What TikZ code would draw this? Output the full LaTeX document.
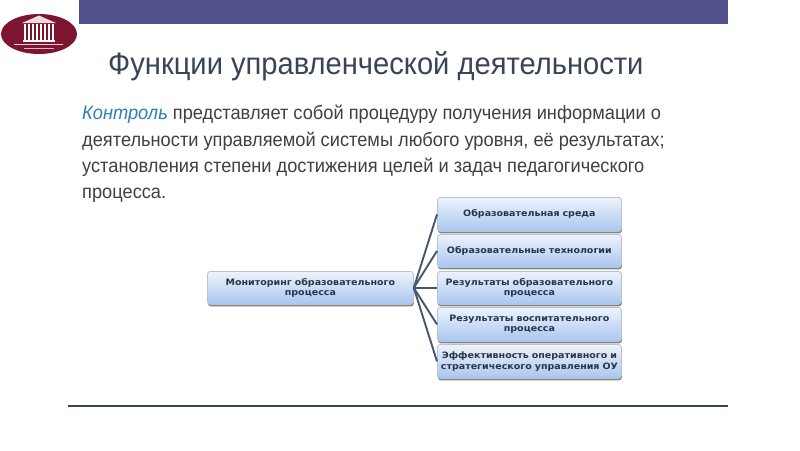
\documentclass[tikz,border=0pt]{standalone}
\usepackage{fontspec}
\setmainfont[FakeStretch=0.94]{Liberation Sans}
\newfontfamily\boxFont[FakeStretch=1.08]{DejaVu Sans}
\usetikzlibrary{shadows}
\definecolor{barBlue}{HTML}{50508A}
\definecolor{titleGrey}{HTML}{3A4454}
\definecolor{bodyGrey}{HTML}{404040}
\definecolor{controlBlue}{HTML}{2F7FB5}
\definecolor{logoRed}{HTML}{7E1530}
\definecolor{linkSlate}{HTML}{46566E}
\definecolor{boxTop}{HTML}{EEF3FB}
\definecolor{boxBottom}{HTML}{A9C6F0}
\definecolor{boxEdge}{HTML}{B7C3D3}
\definecolor{boxText}{HTML}{263648}
\newcommand{\pTitleSize}{\fontsize{31}{33}\selectfont}
\newcommand{\pBodySize}{\fontsize{19.4}{22}\selectfont}
\newcommand{\pBoxSize}{\fontsize{8.8}{10.5}\selectfont}
\tikzset{
  titleText/.style={anchor=base west, inner sep=0pt, text=titleGrey, font=\pTitleSize},
  bodyText/.style={anchor=base west, inner sep=0pt, text=bodyGrey, font=\pBodySize},
  topicBox/.style={anchor=north west, inner sep=0pt, rounded corners=3pt, draw=boxEdge, line width=0.8pt,
    top color=boxTop, bottom color=boxBottom, text=boxText, align=center,
    font=\boxFont\bfseries\pBoxSize, minimum height=#1,
    drop shadow={shadow xshift=0.5pt, shadow yshift=-2pt, fill=black!60, opacity=0.8}},
  linkLine/.style={draw=linkSlate, line width=1.9pt},
}
\begin{document}
\begin{tikzpicture}[x=1pt,y=-1pt]
\useasboundingbox (0,0) rectangle (800,450);
\fill[white] (0,0) rectangle (800,450);
% top bar and rule
\fill[barBlue] (79,0) rectangle (728,24);
\draw[draw=linkSlate!80!black, line width=1.5pt] (68,406) -- (728,406);
% logo
\fill[logoRed] (39,34) ellipse [x radius=38, y radius=20];
\fill[white!85!logoRed] (22,23) -- (39,15.5) -- (56,23) -- cycle;
\fill[white] (23,40) rectangle (55,42);
\foreach \xpos in {24,28,...,52} {
  \fill[white] (\xpos,24) rectangle +(2,16);
}
\draw[white!80!logoRed, line width=0.8pt] (14,44) -- (63,44);
\draw[white!70!logoRed, line width=0.7pt] (24,48.5) -- (54,48.5);
% text
\node[titleText] (titleLine) at (108,74) {Функции управленческой деятельности};
\node[bodyText] (bodyLineA) at (82,119) {{\color{controlBlue}\itshape Контроль} представляет собой процедуру получения информации о};
\node[bodyText] (bodyLineB) at (82,146) {деятельности управляемой системы любого уровня, её результатах;};
\node[bodyText] (bodyLineC) at (82,172) {установления степени достижения целей и задач педагогического};
\node[bodyText] (bodyLineD) at (82,198) {процесса.};
% boxes
\node[topicBox=33pt, text width=206pt] (monitorBox) at (207,271) {Мониторинг образовательного\\процесса};
\node[topicBox=34pt, text width=184pt] (envBox) at (437,197) {Образовательная среда};
\node[topicBox=33pt, text width=184pt] (techBox) at (437,234) {Образовательные технологии};
\node[topicBox=33pt, text width=184pt] (eduBox) at (437,271) {Результаты образовательного\\процесса};
\node[topicBox=34pt, text width=184pt] (upbBox) at (437,307) {Результаты воспитательного\\процесса};
\node[topicBox=34pt, text width=184pt] (effBox) at (437,344) {Эффективность оперативного и\\стратегического управления ОУ};
% links
\draw[linkLine] (monitorBox.east) -- (envBox.west);
\draw[linkLine] (monitorBox.east) -- (techBox.west);
\draw[linkLine] (monitorBox.east) -- (eduBox.west);
\draw[linkLine] (monitorBox.east) -- (upbBox.west);
\draw[linkLine] (monitorBox.east) -- (effBox.west);
\end{tikzpicture}
\end{document}
